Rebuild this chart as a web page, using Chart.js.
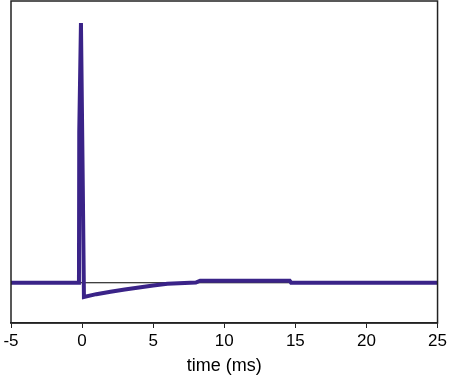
<!DOCTYPE html>
<html>
<head>
<meta charset="utf-8">
<script src="https://cdn.jsdelivr.net/npm/chart.js@4"></script>
<style>
  html, body { margin: 0; padding: 0; background: #fff; }
  #wrap { width: 450px; height: 377px; }
</style>
</head>
<body>
<div id="wrap"><canvas id="c"></canvas></div>
<script>
// trace: time in ms, amplitude in arbitrary units (peak = 100)
const timeMs = [-5, -0.22, -0.2, -0.08, 0.05, 0.13, 1, 2, 3, 4, 5, 6, 8, 8.3, 14.6, 14.7, 25];
const amplitude = [0, 0, 58, 100, 37, -5.5, -4.4, -3.5, -2.6, -1.8, -1.1, -0.4, 0.1, 0.8, 0.8, 0, 0];
const xTicks = [-5, 0, 5, 10, 15, 20, 25];

const tracePoints = timeMs.map((t, i) => ({ x: t, y: amplitude[i] }));
const baseline = [{ x: -5, y: 0 }, { x: 25, y: 0 }];

const boxPlugin = {
    id: 'box',
    afterDraw(chart) {
        const a = chart.chartArea;
        const ctx = chart.ctx;
        ctx.save();
        ctx.strokeStyle = '#222';
        ctx.lineWidth = 1.5;
        ctx.strokeRect(a.left, a.top, a.right - a.left, a.bottom - a.top);
        ctx.restore();
    }
};

new Chart(document.getElementById('c'), {
    type: 'scatter',
    plugins: [boxPlugin],
    data: {
        datasets: [{
            data: tracePoints,
            showLine: true,
            borderColor: '#3a2388',
            borderWidth: 4,
            pointRadius: 0,
            tension: 0
        }, {
            data: baseline,
            showLine: true,
            borderColor: '#000',
            borderWidth: 1,
            pointRadius: 0
        }]
    },
    options: {
        responsive: true,
        maintainAspectRatio: false,
        animation: false,
        layout: { padding: { left: 11, right: 3, top: 1, bottom: 0 } },
        plugins: {
            legend: { display: false },
            tooltip: { enabled: false }
        },
        scales: {
            x: {
                type: 'linear',
                min: -5,
                max: 25,
                afterBuildTicks: axis => { axis.ticks = xTicks.map(v => ({ value: v })); },
                grid: {
                    display: true,
                    drawOnChartArea: false,
                    drawTicks: true,
                    tickLength: 5,
                    color: '#222'
                },
                border: { display: true, color: '#222', width: 1.5 },
                ticks: {
                    color: '#000',
                    padding: 3,
                    maxRotation: 0,
                    font: { family: 'Liberation Sans, Arial, sans-serif', size: 17 }
                },
                title: {
                    display: true,
                    text: 'time (ms)',
                    color: '#000',
                    padding: { top: 1, bottom: 0 },
                    font: { family: 'Liberation Sans, Arial, sans-serif', size: 18 }
                }
            },
            y: {
                display: false,
                min: -15.5,
                max: 108.5
            }
        }
    }
});
</script>
</body>
</html>
